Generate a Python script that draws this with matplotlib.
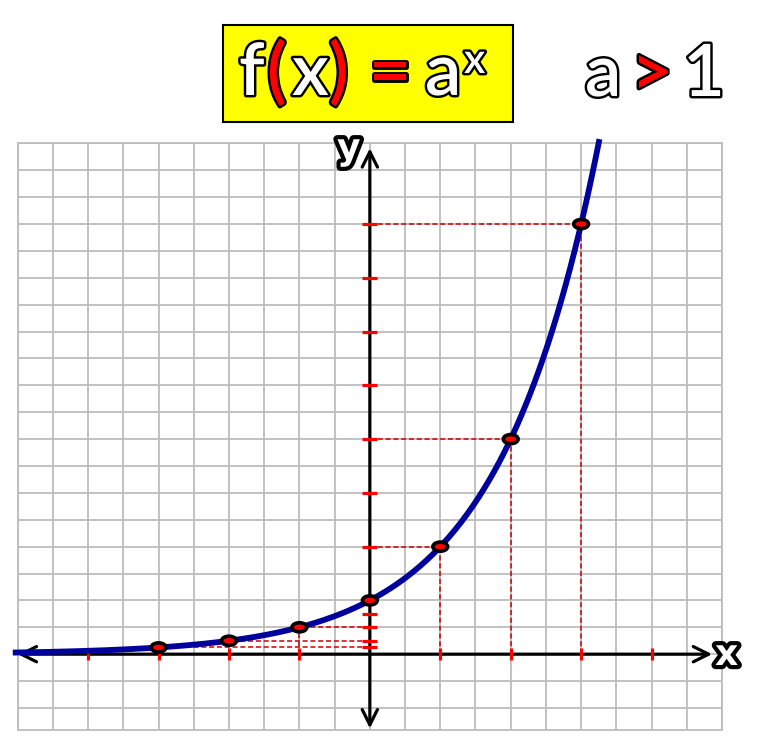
import numpy as np
import matplotlib
matplotlib.use('Agg')
import matplotlib.pyplot as plt
import matplotlib.patheffects as pe
from matplotlib.patches import Ellipse, Rectangle

# Data
base = 2
point_x = [-3, -2, -1, 0, 1, 2, 3]
point_y = [0.125, 0.25, 0.5, 1, 2, 4, 8]
x_tick_marks = [-4, -3, -2, -1, 1, 2, 3, 4]
y_tick_marks = [0.125, 0.25, 0.5, 0.75, 2, 3, 4, 5, 6, 7, 8]

title_parts = ['f', '(', 'x', ')', '=', 'a']
title_sup = 'x'
cond_parts = ['a', '>', '1']

# Figure
W, H = 768, 744
fig = plt.figure(figsize=(W / 100, H / 100), dpi=100)
fig.patch.set_facecolor('white')

left, right, top, bottom = 17.7, 722, 143.4, 730
ax = fig.add_axes([left / W, 1 - bottom / H, (right - left) / W, (bottom - top) / H])
ax.set_xlim(-5, 5)
ax.set_ylim(-1.41, 9.5)

# Grid
ax.set_xticks(np.arange(-5, 5.01, 0.5))
ax.set_yticks(np.arange(-1.0, 9.51, 0.5))
ax.tick_params(length=0, labelbottom=False, labelleft=False)
ax.grid(True, color='#bdbdbd', lw=1.3, zorder=0)
ax.set_axisbelow(True)
for s in ax.spines.values():
    s.set_color('#bdbdbd')
    s.set_linewidth(1.3)

# Dashed guide lines
dash_col = '#cc0000'
for px, py in zip(point_x, point_y):
    if px == 0:
        continue
    ax.plot([0, px], [py, py], color=dash_col, lw=1.1, ls=(0, (3.3, 1.8)), zorder=2)
    ax.plot([px, px], [0, py], color=dash_col, lw=1.1, ls=(0, (3.3, 1.8)), zorder=2)

# Axes with arrows
arrow_style = '<->,head_length=1.0,head_width=0.5'
ax.annotate('', xy=(4.86, 0), xytext=(-5.0, 0),
            arrowprops=dict(arrowstyle=arrow_style, lw=2.3, color='black',
                            shrinkA=0, shrinkB=0, mutation_scale=11),
            annotation_clip=False, zorder=3)
ax.annotate('', xy=(0, 9.41), xytext=(0, -1.38),
            arrowprops=dict(arrowstyle=arrow_style, lw=2.3, color='black',
                            shrinkA=0, shrinkB=0, mutation_scale=11),
            annotation_clip=False, zorder=3)

# Red ticks
for tx in x_tick_marks:
    ax.plot([tx, tx], [-0.11, 0.11], color='red', lw=2.3, solid_capstyle='butt', zorder=4)
for ty in y_tick_marks:
    ax.plot([-0.11, 0.1], [ty, ty], color='red', lw=2.3, solid_capstyle='butt', zorder=4)

# Curve
xs = np.linspace(-5.07, 3.26, 400)
ax.plot(xs, base ** xs, color='#00009c', lw=4.2, solid_capstyle='butt', zorder=5, clip_on=False)

# Points
for px, py in zip(point_x, point_y):
    ax.add_patch(Ellipse((px, py), width=0.21, height=0.17, fc='red', ec='black', lw=2.6, zorder=6))

# Axis labels
lab_fx = [pe.withStroke(linewidth=6, foreground='black')]
fig.text(337 / W, 1 - 159 / H, 'y', fontsize=26, fontweight='bold', color='white',
         family='DejaVu Sans', path_effects=lab_fx, ha='left', va='baseline')
fig.text(715 / W, 1 - 665 / H, 'x', fontsize=26, fontweight='bold', color='white',
         family='DejaVu Sans', path_effects=lab_fx, ha='left', va='baseline')

# Title box
fig.patches.append(Rectangle((223 / W, 1 - 122 / H), (513 - 223) / W, (122 - 25) / H,
                             transform=fig.transFigure, fc='#ffff00', ec='black', lw=1.5,
                             figure=fig, zorder=1))

txt_fx = [pe.withStroke(linewidth=3.5, foreground='black')]
title_x = [239, 267, 292, 329, 369, 425]
title_col = ['white', 'red', 'white', 'red', 'red', 'white']
for s, xp, c in zip(title_parts, title_x, title_col):
    fig.text(xp / W, 1 - 95 / H, s, fontsize=52, fontweight='semibold', color=c, family='Lato',
             path_effects=txt_fx, ha='left', va='baseline', zorder=3)
fig.text(464 / W, 1 - 73 / H, title_sup, fontsize=30, fontweight='semibold', color='white',
         family='Lato', path_effects=txt_fx, ha='left', va='baseline', zorder=3)

cond_x = [585, 631, 683]
cond_col = ['white', 'red', 'white']
for s, xp, c in zip(cond_parts, cond_x, cond_col):
    fig.text(xp / W, 1 - 96 / H, s, fontsize=52, fontweight='semibold', color=c, family='Lato',
             path_effects=txt_fx, ha='left', va='baseline', zorder=3)

fig.savefig('out.png', dpi=100)
